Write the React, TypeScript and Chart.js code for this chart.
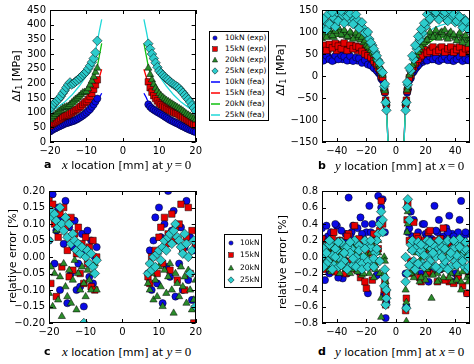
import React, { useEffect, useRef } from "react";
import { Chart, registerables } from "chart.js";
Chart.register(...registerables);

// ---------------- DATA ----------------
// Panel a: x location [mm] at y=0
const XA_L = [-20,-19.5,-19,-18.5,-18,-17.5,-17,-16.5,-16,-15.5,-15,-14.5,-14,-13.5,-13,-12.5,-12,-11.5,-11,-10.5,-10,-9.5,-9,-8.5,-8,-7.5,-7];
const XA_R = [7,7.5,8,8.5,9,9.5,10,10.5,11,11.5,12,12.5,13,13.5,14,14.5,15,15.5,16,16.5,17,17.5,18,18.5,19,19.5,20];
const A10_L = [36,40,44,47,50,53,56,59,62,64,66,68,70,72,75,78,82,86,90,95,100,106,112,120,128,138,148];
const A15_L = [55,60,64,68,72,76,80,84,88,90,92,96,100,104,108,112,117,122,128,134,138,145,155,166,180,195,212];
const A20_L = [76,82,88,94,100,105,110,115,118,120,122,128,134,140,146,150,156,162,168,170,172,182,195,208,222,238,252];
const A25_L = [108,120,128,136,142,148,156,166,175,186,195,203,196,200,206,210,216,222,228,234,240,250,260,272,285,305,345];
const A10_R = [128,120,114,110,106,102,99,95,91,87,83,79,75,72,69,66,63,60,56,53,50,47,44,41,39,36,34];
const A15_R = [205,185,170,158,148,140,132,127,122,118,114,110,107,104,101,98,96,92,88,84,80,76,72,68,64,60,57];
const A20_R = [252,230,212,196,184,174,165,158,152,147,142,138,134,130,126,122,118,114,110,106,101,96,92,88,84,80,76];
const A25_R = [335,318,300,285,270,255,242,235,228,222,216,212,205,200,196,192,188,182,175,168,160,152,145,136,125,116,106];
// FEA curves, panel a
const FXA_L = [-20,-18,-16,-14,-12,-10,-9,-8,-7.5,-7,-6.5,-5.8];
const FXA_R = [5.8,6.5,7,7.5,8,9,10,12,14,16,18,20];
const FA10_L = [38,45,53,62,74,90,100,114,123,135,150,166];
const FA15_L = [55,65,76,90,106,128,142,162,176,195,218,248];
const FA20_L = [76,88,102,120,142,170,188,215,234,258,290,336];
const FA25_L = [102,118,136,160,190,225,250,285,310,342,375,418];
const FA10_R = [166,150,135,123,114,100,90,74,62,53,45,38];
const FA15_R = [248,218,195,176,162,142,128,106,90,76,65,55];
const FA20_R = [336,290,258,234,215,188,170,142,120,102,88,76];
const FA25_R = [418,375,342,310,285,250,225,190,160,136,118,102];

// Panel b: y location [mm] at x=0
const XB_L = [-50,-48,-46,-44,-42,-40,-38,-36,-34,-32,-30,-28,-26,-24,-22,-20,-18,-16,-14,-12,-10,-8,-7];
const XB_R = [7,8,10,12,14,16,18,20,22,24,26,28,30,32,34,36,38,40,42,44,46,48,50];
const XB_LM = [-49,-47,-45,-43,-41,-39,-37,-35,-33,-31,-29,-27,-25,-23,-21,-19,-17,-15,-13,-11,-9,-7.5,-6.5];
const XB_RM = [6.5,7.5,9,11,13,15,17,19,21,23,25,27,29,31,33,35,37,39,41,43,45,47,49];
const B10_L1 = [42,38,45,40,36,44,40,38,42,36,40,38,35,38,34,30,28,22,16,8,-6,-32,-58];
const B10_L2 = [35,46,38,34,46,38,47,44,35,45,34,42,40,30,36,26,24,18,12,4,-10,-38,-66];
const B15_L1 = [62,68,60,70,64,58,72,62,66,60,70,62,58,64,58,52,48,40,30,18,0,-30,-55];
const B15_L2 = [70,58,72,64,74,68,62,75,58,70,62,68,66,56,50,46,42,34,26,14,-4,-36,-64];
const B20_L1 = [85,95,90,100,88,96,104,92,98,88,96,90,86,82,76,70,62,52,40,26,6,-28,-56];
const B20_L2 = [100,88,106,92,102,110,94,104,90,100,84,98,92,88,80,66,58,48,36,22,2,-34,-62];
const B25_L1 = [110,125,140,118,132,145,128,138,150,124,135,120,128,115,108,95,84,70,54,36,12,-24,-60];
const B25_L2 = [130,105,118,145,112,125,148,120,135,142,118,140,108,122,98,100,76,62,46,30,8,-18,-78];
const B10_R1 = [-58,-30,-5,10,20,28,32,36,40,38,42,36,40,44,38,42,35,40,44,38,42,36,40];
const B10_R2 = [-66,-38,-10,6,16,24,36,40,35,44,38,42,34,38,44,36,42,34,38,44,34,40,36];
const B15_R1 = [-55,-28,2,20,32,42,50,55,58,62,56,60,64,58,62,56,60,64,58,62,56,60,58];
const B15_R2 = [-64,-34,-4,16,28,38,46,60,52,56,66,54,58,66,54,62,66,54,60,66,52,62,64];
const B20_R1 = [-56,-26,6,28,46,60,72,80,88,92,96,90,98,94,88,96,90,86,92,84,88,80,84];
const B20_R2 = [-62,-32,2,24,40,54,66,76,82,100,88,104,86,100,104,84,100,94,80,98,76,92,72];
const B25_R1 = [-60,-20,12,38,62,82,98,112,125,138,145,132,148,140,128,142,135,122,138,118,130,112,120];
const B25_R2 = [-78,-14,18,46,70,90,106,120,140,130,150,145,128,150,145,125,148,140,125,135,110,125,105];
// FEA curves, panel b
const FXB_L = [-50,-45,-40,-35,-30,-25,-20,-15,-12,-10,-9,-8,-7,-6.5,-6,-5.4];
const FXB_R = [5.4,6,6.5,7,8,9,10,12,15,20,25,30,35,40,45,50];
const FB10_L = [40,42,43,43,42,40,34,24,14,2,-8,-24,-50,-72,-100,-150];
const FB15_L = [60,63,64,64,62,58,50,36,24,6,-5,-24,-52,-74,-102,-150];
const FB20_L = [85,88,90,90,87,82,70,52,36,14,0,-22,-52,-76,-105,-150];
const FB25_L = [115,120,122,120,115,108,94,70,48,20,4,-20,-52,-78,-108,-150];
const FB10_R = [-150,-100,-72,-50,-24,-8,2,14,24,34,40,42,43,43,42,40];
const FB15_R = [-150,-102,-74,-52,-24,-5,6,24,36,50,58,62,64,64,63,60];
const FB20_R = [-150,-105,-76,-52,-22,0,14,36,52,70,82,87,90,90,88,85];
const FB25_R = [-150,-108,-78,-52,-20,4,20,48,70,94,108,115,120,122,120,115];

// Panel c: relative error [%] (at XA positions)
const C10_L = [0.05,0.2,0.19,-0.02,0.08,0.15,-0.1,0.12,0.04,0.17,-0.14,0.09,-0.05,0.03,0.11,-0.1,-0.02,-0.09,0.07,-0.15,0.02,0.08,-0.06,0.05,-0.08,0.0,0.03];
const C15_L = [0.17,-0.08,0.16,0.1,-0.12,0.06,0.13,-0.03,0.15,0.09,0.02,-0.06,0.12,-0.04,0.07,0.01,0.09,-0.05,0.04,-0.08,0.06,-0.02,0.03,-0.09,0.05,-0.1,0.0];
const C20_L = [-0.11,-0.03,-0.15,-0.05,0.08,-0.13,-0.06,-0.18,-0.02,-0.09,-0.12,-0.04,-0.14,-0.07,-0.01,-0.16,-0.05,-0.1,-0.03,-0.08,-0.12,-0.04,-0.07,-0.1,-0.05,-0.02,-0.1];
const C25_L = [0.05,0.14,0.12,0.13,0.11,0.09,0.15,0.1,0.08,0.12,0.06,0.1,0.04,0.07,0.05,0.02,0.04,0.01,0.03,-0.2,0.0,0.02,-0.02,0.01,-0.03,-0.05,-0.01];
const C10_R = [-0.05,0.02,-0.1,0.05,0.12,-0.08,0.15,0.06,-0.14,0.1,-0.03,0.2,-0.06,0.08,0.14,-0.12,0.05,-0.02,0.09,-0.1,0.03,0.17,-0.07,0.06,-0.13,0.02,0.04];
const C15_R = [-0.06,-0.08,0.0,-0.03,0.02,-0.05,0.06,0.09,-0.02,0.12,0.04,0.07,-0.04,0.13,0.05,0.09,-0.07,0.1,0.16,0.02,-0.1,0.06,0.15,-0.05,0.08,-0.2,0.04];
const C20_R = [-0.08,-0.1,-0.05,-0.13,-0.07,-0.12,-0.03,-0.09,-0.15,-0.04,-0.11,-0.06,-0.02,-0.1,-0.17,-0.05,-0.08,-0.12,-0.03,-0.09,-0.06,-0.14,-0.04,-0.1,-0.16,-0.13,-0.07];
const C25_R = [-0.05,-0.02,-0.04,0.0,-0.03,0.01,0.02,-0.01,0.03,0.05,0.02,0.06,0.07,0.04,0.08,0.1,0.06,0.05,0.03,0.01,0.07,0.04,0.0,-0.05,0.02,0.05,-0.15];

// Panel d: relative error [%] (at XB positions)
const D10_L1 = [0.35,-0.28,0.25,0.3,-0.15,0.38,0.2,-0.26,0.28,0.72,0.3,-0.1,0.35,0.48,0.22,0.3,0.62,0.4,0.25,0.74,0.6,-0.45,-0.74];
const D10_L2 = [0.22,0.38,-0.2,0.15,0.4,-0.25,0.32,0.18,-0.2,0.25,0.38,0.2,-0.18,0.28,0.4,-0.44,0.3,0.2,-0.22,0.45,0.7,0.3,-0.55];
const D15_L1 = [0.22,-0.05,0.18,0.1,0.3,-0.12,0.2,0.15,-0.2,0.28,0.1,0.38,0.05,-0.25,0.2,-0.38,0.12,-0.28,0.2,0.1,0.68,-0.4,-0.58];
const D15_L2 = [-0.15,0.12,-0.08,0.22,-0.18,0.15,0.05,-0.1,0.25,-0.05,0.18,-0.15,0.22,0.12,-0.3,0.05,-0.12,0.28,-0.05,0.32,0.4,-0.3,-0.45];
const D20_L1 = [0.05,-0.12,0.1,-0.05,0.15,-0.08,0.02,0.12,-0.15,0.08,-0.1,0.05,-0.18,0.1,-0.05,0.02,-0.2,0.08,-0.15,0.2,-0.73,0.0,-0.35];
const D20_L2 = [-0.1,0.08,-0.15,0.12,-0.02,0.1,-0.12,0.0,0.06,-0.2,0.12,-0.08,0.04,-0.22,0.15,-0.1,0.05,-0.25,0.1,-0.2,0.3,-0.05,-0.4];
const D20_L3 = [0.15,-0.05,0.0,-0.18,0.08,0.0,-0.2,0.1,-0.05,0.15,-0.15,0.12,-0.1,0.0,-0.2,0.12,-0.08,0.15,-0.1,0.05,-0.5,-0.2,-0.3];
const D25_L1 = [0.0,0.12,-0.05,0.18,-0.1,0.08,-0.02,0.15,0.05,-0.12,0.1,0.2,-0.05,0.12,0.0,0.15,-0.08,0.1,0.05,0.28,0.55,-0.35,-0.58];
const D25_L2 = [0.1,-0.08,0.15,0.02,0.1,-0.12,0.18,-0.05,0.12,0.05,-0.1,0.0,0.14,-0.08,0.2,-0.05,0.12,-0.02,0.2,0.4,0.45,-0.15,-0.5];
const D25_L3 = [-0.12,0.05,0.2,-0.15,0.0,0.18,-0.1,0.05,-0.15,0.18,-0.02,-0.12,0.08,-0.15,0.1,-0.12,0.2,-0.12,0.1,-0.05,0.3,-0.25,-0.4];
const D10_R1 = [-0.6,0.3,0.55,0.45,0.2,-0.1,0.4,0.28,-0.3,0.22,0.62,0.3,-0.15,0.25,0.35,0.5,0.28,-0.2,0.3,0.68,0.25,-0.44,0.28];
const D10_R2 = [-0.2,0.6,0.35,0.25,0.15,0.3,-0.2,0.4,0.25,0.2,-0.18,0.32,0.45,0.22,-0.1,0.3,0.2,0.25,-0.28,0.45,0.2,0.3,-0.15];
const D15_R1 = [-0.5,0.65,-0.05,0.42,0.25,-0.25,0.2,0.15,0.3,-0.2,0.12,-0.3,0.22,0.35,0.18,-0.3,0.12,0.2,-0.25,0.18,0.15,-0.44,0.1];
const D15_R2 = [-0.65,0.45,0.2,-0.2,0.1,0.22,-0.3,0.05,-0.18,0.32,0.1,0.2,-0.15,0.08,-0.28,0.15,0.05,-0.32,0.12,0.2,-0.35,0.05,-0.2];
const D20_R1 = [-0.78,0.55,0.1,-0.25,0.05,-0.3,0.0,-0.22,0.1,-0.5,0.05,-0.2,0.0,-0.25,0.08,-0.15,-0.3,0.05,-0.2,-0.4,0.0,-0.25,-0.1];
const D20_R2 = [-0.4,0.3,-0.1,0.08,-0.18,0.12,-0.25,0.05,-0.15,0.0,-0.22,0.1,-0.28,0.02,-0.12,0.1,-0.2,0.0,-0.28,0.05,-0.18,0.02,-0.3];
const D20_R3 = [-0.55,0.4,-0.2,-0.1,0.12,-0.05,0.1,-0.28,0.02,-0.12,0.15,-0.3,0.1,-0.15,0.0,-0.25,0.05,-0.12,0.1,-0.3,-0.1,0.1,-0.22];
const D25_R1 = [-0.62,0.7,0.15,-0.05,0.12,0.05,-0.08,0.15,0.0,0.1,-0.12,0.12,0.05,-0.1,0.18,0.0,0.1,-0.05,0.15,0.0,0.08,-0.15,0.05];
const D25_R2 = [0.0,-0.2,0.45,0.2,-0.1,0.18,0.08,-0.12,0.2,-0.05,0.15,0.0,-0.15,0.12,-0.05,0.2,-0.12,0.1,0.02,0.22,-0.1,0.1,-0.12];
const D25_R3 = [-0.3,0.6,-0.1,0.08,-0.15,-0.08,0.15,0.02,-0.1,0.18,0.05,-0.12,0.2,0.0,0.1,-0.15,0.05,0.2,-0.1,0.12,-0.05,0.18,0.0];

// Ticks & labels
const TICKS_XA = [-20, -10, 0, 10, 20];
const TICKS_YA = [0, 50, 100, 150, 200, 250, 300, 350, 400, 450];
const TICKS_XB = [-40, -20, 0, 20, 40];
const TICKS_YB = [-150, -100, -50, 0, 50, 100, 150];
const TICKS_YC = [-0.2, -0.15, -0.1, -0.05, 0, 0.05, 0.1, 0.15, 0.2];
const TICKS_YD = [-0.8, -0.6, -0.4, -0.2, 0, 0.2, 0.4, 0.6, 0.8];
const LOADS = ["10kN", "15kN", "20kN", "25kN"];

// ---------------- STYLE ----------------
const SANS = '"DejaVu Sans", sans-serif';
const SERIF = '"Liberation Serif", "DejaVu Serif", serif';
const MK = [
  { shape: "circle", r: 3.6, fill: "#0a0ae6", line: "#0000ff" },
  { shape: "rect", r: 4.6, fill: "#e60000", line: "#ff0000" },
  { shape: "triangle", r: 4.2, fill: "#2a8c2a", line: "#10c010" },
  { shape: "rectRot", r: 4.8, fill: "#2ccccc", line: "#20d8d8" },
];

const pts = (xs: number[], ys: number[]) => xs.map((x, i) => ({ x, y: ys[i] }));

function scatterDs(data: any[], k: number) {
  const s = MK[k];
  return {
    data,
    showLine: false,
    pointStyle: s.shape,
    pointRadius: s.r,
    pointBackgroundColor: s.fill,
    pointBorderColor: "#000",
    pointBorderWidth: 0.5,
    order: 10 - k,
    clip: 0,
  };
}
function lineDs(xl: number[], yl: number[], xr: number[], yr: number[], k: number) {
  return {
    data: [...pts(xl, yl), { x: 0, y: null }, ...pts(xr, yr)],
    showLine: true,
    spanGaps: false,
    pointRadius: 0,
    borderColor: MK[k].line,
    borderWidth: 1.3,
    order: 20 - k,
    clip: 0,
  };
}

const framePlugin = {
  id: "frame",
  afterDatasetsDraw(chart: any) {
    const { ctx, chartArea: a, scales } = chart;
    ctx.save();
    ctx.strokeStyle = "#000";
    ctx.lineWidth = 1;
    ctx.beginPath();
    const L = 4;
    for (const t of scales.x.ticks) {
      const p = Math.round(scales.x.getPixelForValue(t.value)) + 0.5;
      ctx.moveTo(p, a.bottom); ctx.lineTo(p, a.bottom - L);
      ctx.moveTo(p, a.top); ctx.lineTo(p, a.top + L);
    }
    for (const t of scales.y.ticks) {
      const p = Math.round(scales.y.getPixelForValue(t.value)) + 0.5;
      ctx.moveTo(a.left, p); ctx.lineTo(a.left + L, p);
      ctx.moveTo(a.right, p); ctx.lineTo(a.right - L, p);
    }
    ctx.stroke();
    ctx.strokeRect(Math.round(a.left) + 0.5, Math.round(a.top) + 0.5, Math.round(a.right - a.left) - 1, Math.round(a.bottom - a.top) - 1);
    ctx.restore();
  },
};

const fmt = (v: number, d: number) => {
  const s = Math.abs(v) < 1e-9 ? (0).toFixed(d) : v.toFixed(d);
  return s.replace("-", "\u2212");
};

function makeConfig(o: any) {
  return {
    type: "scatter",
    data: { datasets: o.datasets },
    options: {
      animation: false,
      responsive: false,
      maintainAspectRatio: false,
      events: [],
      layout: { padding: { left: 0, top: o.padTop, right: o.padRight, bottom: 0 }, autoPadding: false },
      plugins: { legend: { display: false }, tooltip: { enabled: false } },
      scales: {
        x: {
          type: "linear", min: o.xMin, max: o.xMax,
          grid: { display: false, drawTicks: false }, border: { display: false },
          ticks: { color: "#000", font: { family: SANS, size: 10 }, padding: 3, maxRotation: 0, autoSkip: false, callback: (v: number) => fmt(v, 0) },
          afterBuildTicks: (s: any) => { s.ticks = o.xTicks.map((v: number) => ({ value: v })); },
          afterFit: (s: any) => { s.height = o.xh; },
        },
        y: {
          type: "linear", min: o.yMin, max: o.yMax,
          grid: { display: false, drawTicks: false }, border: { display: false },
          ticks: { color: "#000", font: { family: SANS, size: 10 }, padding: 4, autoSkip: false, callback: (v: number) => fmt(v, o.yDigits) },
          afterBuildTicks: (s: any) => { s.ticks = o.yTicks.map((v: number) => ({ value: v })); },
          afterFit: (s: any) => { s.width = o.yw; },
        },
      },
    },
    plugins: [framePlugin],
  };
}

function Panel({ left, top, width, height, cfg }: any) {
  const ref = useRef<HTMLCanvasElement>(null);
  useEffect(() => {
    const chart = new Chart(ref.current as HTMLCanvasElement, cfg() as any);
    return () => chart.destroy();
  }, []);
  return <canvas ref={ref} width={width} height={height} style={{ position: "absolute", left, top, width, height }} />;
}

const cfgA = () => makeConfig({
  datasets: [
    lineDs(FXA_L, FA10_L, FXA_R, FA10_R, 0), lineDs(FXA_L, FA15_L, FXA_R, FA15_R, 1),
    lineDs(FXA_L, FA20_L, FXA_R, FA20_R, 2), lineDs(FXA_L, FA25_L, FXA_R, FA25_R, 3),
    scatterDs([...pts(XA_L, A10_L), ...pts(XA_R, A10_R)], 0),
    scatterDs([...pts(XA_L, A15_L), ...pts(XA_R, A15_R)], 1),
    scatterDs([...pts(XA_L, A20_L), ...pts(XA_R, A20_R)], 2),
    scatterDs([...pts(XA_L, A25_L), ...pts(XA_R, A25_R)], 3),
  ],
  xMin: -20, xMax: 20, xTicks: TICKS_XA, yMin: 0, yMax: 450, yTicks: TICKS_YA, yDigits: 0,
  padTop: 10, padRight: 8, yw: 50, xh: 18,
});
const cfgB = () => makeConfig({
  datasets: [
    lineDs(FXB_L, FB10_L, FXB_R, FB10_R, 0), lineDs(FXB_L, FB15_L, FXB_R, FB15_R, 1),
    lineDs(FXB_L, FB20_L, FXB_R, FB20_R, 2), lineDs(FXB_L, FB25_L, FXB_R, FB25_R, 3),
    scatterDs([...pts(XB_L, B10_L1), ...pts(XB_LM, B10_L2), ...pts(XB_R, B10_R1), ...pts(XB_RM, B10_R2)], 0),
    scatterDs([...pts(XB_L, B15_L1), ...pts(XB_LM, B15_L2), ...pts(XB_R, B15_R1), ...pts(XB_RM, B15_R2)], 1),
    scatterDs([...pts(XB_L, B20_L1), ...pts(XB_LM, B20_L2), ...pts(XB_R, B20_R1), ...pts(XB_RM, B20_R2)], 2),
    scatterDs([...pts(XB_L, B25_L1), ...pts(XB_LM, B25_L2), ...pts(XB_R, B25_R1), ...pts(XB_RM, B25_R2)], 3),
  ],
  xMin: -50, xMax: 50, xTicks: TICKS_XB, yMin: -150, yMax: 150, yTicks: TICKS_YB, yDigits: 0,
  padTop: 10, padRight: 4, yw: 47, xh: 18,
});
const cfgC = () => makeConfig({
  datasets: [
    scatterDs([...pts(XA_L, C10_L), ...pts(XA_R, C10_R)], 0),
    scatterDs([...pts(XA_L, C15_L), ...pts(XA_R, C15_R)], 1),
    scatterDs([...pts(XA_L, C20_L), ...pts(XA_R, C20_R)], 2),
    scatterDs([...pts(XA_L, C25_L), ...pts(XA_R, C25_R)], 3),
  ],
  xMin: -20, xMax: 20, xTicks: TICKS_XA, yMin: -0.2, yMax: 0.2, yTicks: TICKS_YC, yDigits: 2,
  padTop: 11, padRight: 7, yw: 49, xh: 17,
});
const cfgD = () => makeConfig({
  datasets: [
    scatterDs([...pts(XB_L, D10_L1), ...pts(XB_LM, D10_L2), ...pts(XB_R, D10_R1), ...pts(XB_RM, D10_R2)], 0),
    scatterDs([...pts(XB_L, D15_L1), ...pts(XB_LM, D15_L2), ...pts(XB_R, D15_R1), ...pts(XB_RM, D15_R2)], 1),
    scatterDs([...pts(XB_L, D20_L1), ...pts(XB_LM, D20_L2), ...pts(XB_L, D20_L3), ...pts(XB_R, D20_R1), ...pts(XB_RM, D20_R2), ...pts(XB_R, D20_R3)], 2),
    scatterDs([...pts(XB_L, D25_L1), ...pts(XB_LM, D25_L2), ...pts(XB_LM, D25_L3), ...pts(XB_R, D25_R1), ...pts(XB_RM, D25_R2), ...pts(XB_RM, D25_R3)], 3),
  ],
  xMin: -50, xMax: 50, xTicks: TICKS_XB, yMin: -0.8, yMax: 0.8, yTicks: TICKS_YD, yDigits: 1,
  padTop: 11, padRight: 4, yw: 47, xh: 17,
});

// ---------------- OVERLAY TEXT ----------------
function Marker({ k, kind }: { k: number; kind: "exp" | "fea" }) {
  const s = MK[k];
  let el: any;
  if (kind === "fea") el = <line x1={1} y1={5} x2={10} y2={5} stroke={s.line} strokeWidth={1.5} />;
  else if (s.shape === "circle") el = <circle cx={5} cy={5} r={2.1} fill={s.fill} stroke="#000" strokeWidth={0.5} />;
  else if (s.shape === "rect") el = <rect x={2.7} y={2.7} width={4.6} height={4.6} fill={s.fill} stroke="#000" strokeWidth={0.5} />;
  else if (s.shape === "triangle") el = <polygon points="5,2.2 7.6,7 2.4,7" fill={s.fill} stroke="#000" strokeWidth={0.5} />;
  else el = <polygon points="5,1.8 8.2,5 5,8.2 1.8,5" fill={s.fill} stroke="#000" strokeWidth={0.5} />;
  return <svg width={11} height={10} style={{ position: "absolute", left: 0, top: 0 }}>{el}</svg>;
}

function Legend({ left, top, width, height, rows, mx, tx, row0, dy }: any) {
  return (
    <div style={{ position: "absolute", left, top, width, height, border: "1px solid #000", background: "#fff", boxSizing: "border-box" }}>
      {rows.map((r: any, i: number) => (
        <div key={i} style={{ position: "absolute", left: 0, top: row0 + dy * i - 5, height: 10, width: width - 2 }}>
          <div style={{ position: "absolute", left: mx - 5, top: 0, width: 11, height: 10 }}>
            <Marker k={r.k} kind={r.kind} />
          </div>
          <div style={{ position: "absolute", left: tx, top: 0, lineHeight: "10px", fontSize: 7.5, fontFamily: SANS, whiteSpace: "nowrap", color: "#000" }}>{r.label}</div>
        </div>
      ))}
    </div>
  );
}

function XTitle({ letter, left, textLeft, cy, v, o }: any) {
  const it = { fontFamily: SERIF, fontStyle: "italic", fontSize: 13 } as any;
  return (
    <>
      <div style={{ position: "absolute", left, top: cy - 7, lineHeight: "14px", fontFamily: SANS, fontWeight: "bold", fontSize: 11 }}>{letter}</div>
      <div style={{ position: "absolute", left: textLeft, top: cy - 7, lineHeight: "14px", fontFamily: SANS, fontSize: 11, whiteSpace: "nowrap" }}>
        <span style={it}>{v}</span> location [mm] at <span style={it}>{o}</span><span style={{ fontFamily: SERIF, fontSize: 13 }}>{"\u2009=\u20090"}</span>
      </div>
    </>
  );
}

function YTitle({ cx, cy, children }: any) {
  return (
    <div style={{ position: "absolute", left: cx, top: cy, transform: "translate(-50%, -50%) rotate(-90deg)", whiteSpace: "nowrap", fontFamily: SANS, fontSize: 11, lineHeight: "14px" }}>
      {children}
    </div>
  );
}

const DeltaI = () => (
  <>
    <span style={{ fontFamily: SANS }}>Δ</span>
    <span style={{ fontFamily: SERIF, fontStyle: "italic", fontSize: 13 }}>I</span>
    <sub style={{ fontSize: 8, verticalAlign: "-2px" }}>1</sub> [MPa]
  </>
);

export default function App() {
  const legA = [
    ...LOADS.map((l, k) => ({ k, kind: "exp", label: `${l} (exp)` })),
    ...LOADS.map((l, k) => ({ k, kind: "fea", label: `${l} (fea)` })),
  ];
  const legD = LOADS.map((l, k) => ({ k, kind: "exp", label: l }));
  return (
    <div style={{ position: "fixed", left: 0, top: 0, width: 474, height: 364, background: "#fff", overflow: "hidden" }}>
      <Panel left={0} top={0} width={205} height={160} cfg={cfgA} />
      <Panel left={275} top={0} width={199} height={160} cfg={cfgB} />
      <Panel left={0} top={180} width={205} height={160} cfg={cfgC} />
      <Panel left={275} top={180} width={199} height={160} cfg={cfgD} />

      <YTitle cx={18} cy={76}><DeltaI /></YTitle>
      <YTitle cx={282} cy={70}><DeltaI /></YTitle>
      <YTitle cx={13} cy={256}>relative error [%]</YTitle>
      <YTitle cx={283} cy={262}>relative error [%]</YTitle>

      <XTitle letter="a" left={44} textLeft={62} cy={165} v="x" o="y" />
      <XTitle letter="b" left={318} textLeft={335} cy={166} v="y" o="x" />
      <XTitle letter="c" left={44} textLeft={62} cy={352} v="x" o="y" />
      <XTitle letter="d" left={318} textLeft={335} cy={352} v="y" o="x" />

      <Legend left={209} top={31} width={60} height={90} rows={legA} mx={5} tx={15} row0={5.5} dy={11} />
      <Legend left={224} top={234} width={38} height={54} rows={legD} mx={6} tx={15} row0={7.5} dy={12.5} />
    </div>
  );
}
